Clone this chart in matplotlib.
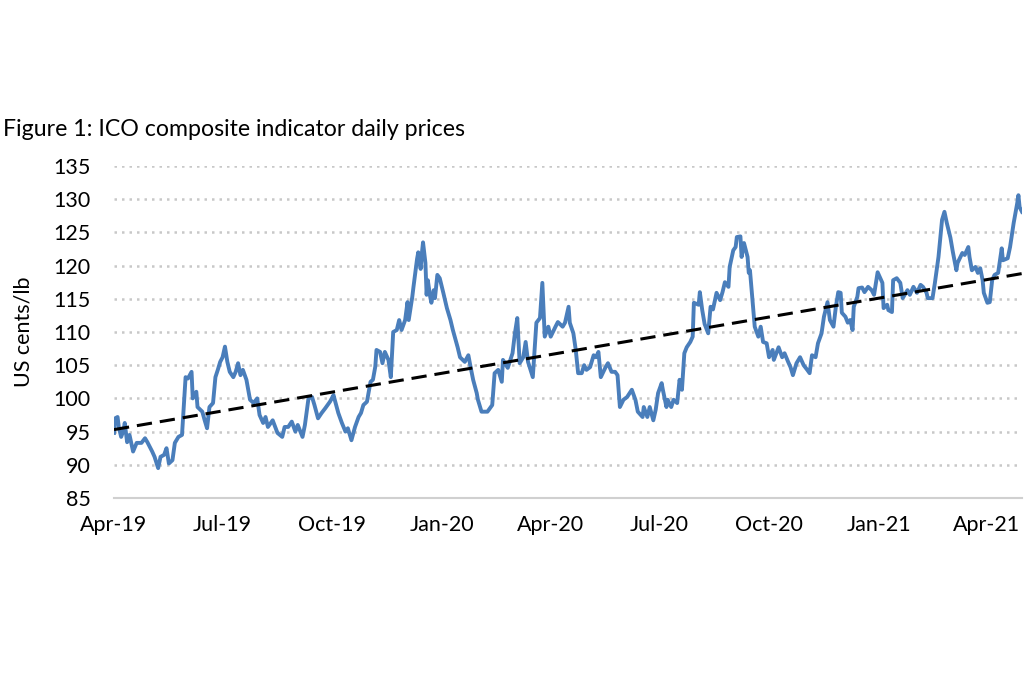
import numpy as np
import pandas as pd
import matplotlib
matplotlib.use('Agg')
import matplotlib.pyplot as plt
import matplotlib.dates as mdates

plt.rcParams['font.family'] = ['Lato', 'DejaVu Sans']

# ICO composite indicator (days counted from start_date)
start_date = '2019-04-01'
days = [0, 1, 3, 4, 6, 8, 9, 11, 13, 16, 19, 23, 26, 28, 32, 34, 37, 39, 42, 44,
        46, 49, 51, 54, 57, 60, 62, 65, 66, 69, 70, 74, 76, 78, 80, 83, 85, 87, 89, 91,
        93, 95, 97, 100, 102, 104, 106, 108, 111, 114, 117, 120, 122, 125, 127, 129, 133, 137, 141, 143,
        146, 149, 152, 154, 158, 160, 163, 166, 168, 171, 174, 177, 181, 184, 185, 188, 191, 194, 196, 199,
        202, 205, 207, 209, 212, 215, 217, 219, 220, 223, 225, 227, 230, 232, 234, 237, 239, 241, 244, 246,
        247, 250, 251, 254, 255, 257, 258, 259, 261, 262, 263, 265, 266, 268, 269, 271, 273, 276, 279, 282,
        284, 288, 290, 294, 297, 299, 301, 304, 305, 308, 313, 317, 319, 322, 325, 326, 330, 334, 336, 338,
        340, 343, 345, 347, 351, 354, 357, 359, 361, 364, 366, 370, 372, 376, 378, 381, 382, 385, 387, 389,
        392, 394, 396, 399, 402, 404, 406, 408, 412, 414, 417, 420, 422, 424, 427, 430, 434, 437, 439, 443,
        444, 447, 449, 452, 454, 456, 459, 460, 463, 464, 467, 469, 472, 474, 476, 478, 480, 483, 485, 486,
        490, 491, 493, 495, 498, 500, 502, 505, 508, 510, 512, 515, 516, 519, 521, 522, 525, 526, 528, 531,
        532, 533, 536, 537, 540, 542, 544, 547, 549, 552, 553, 557, 560, 562, 565, 567, 569, 572, 575, 578,
        581, 583, 585, 588, 590, 593, 595, 598, 600, 603, 605, 607, 609, 610, 613, 615, 617, 619, 620, 623,
        624, 627, 629, 632, 635, 637, 640, 641, 644, 645, 648, 649, 652, 653, 656, 659, 661, 665, 667, 670,
        673, 676, 678, 681, 682, 686, 688, 691, 694, 696, 698, 701, 703, 706, 707, 711, 713, 716, 717, 719,
        722, 724, 726, 728, 729, 732, 734, 736, 738, 741, 744, 745, 749, 751, 754, 757, 758, 759, 761]
prices = [94.8, 97.0, 97.2, 95.7, 94.2, 95.2, 96.3, 93.4, 94.5, 92.0, 93.3, 93.3, 94.0, 93.4, 92.0, 91.2, 89.5, 91.2, 91.5, 92.5,
          90.2, 90.7, 93.3, 94.2, 94.5, 103.2, 103.0, 104.0, 100.0, 101.0, 98.7, 98.0, 96.7, 95.5, 98.7, 99.3, 103.2, 104.3, 105.5, 106.2,
          107.8, 105.5, 104.0, 103.2, 104.0, 105.3, 103.5, 104.3, 102.8, 99.8, 99.3, 100.0, 97.5, 96.3, 97.2, 95.7, 96.7, 94.8, 94.2, 95.7,
          95.7, 96.5, 95.0, 96.0, 94.2, 96.0, 100.0, 100.2, 99.0, 97.0, 97.8, 98.5, 99.5, 100.5, 99.8, 97.8, 96.3, 95.0, 95.5, 93.7,
          95.7, 97.2, 97.8, 99.0, 99.5, 102.5, 102.8, 104.8, 107.3, 107.0, 105.3, 107.0, 105.8, 103.2, 110.0, 110.3, 111.8, 110.3, 111.8, 114.5,
          111.8, 115.3, 116.8, 121.0, 122.0, 119.5, 121.8, 123.5, 120.4, 115.6, 117.8, 115.3, 114.4, 116.3, 115.1, 118.6, 118.1, 115.9, 113.6, 111.8,
          110.3, 107.7, 106.2, 105.5, 106.5, 104.6, 102.8, 100.8, 99.8, 98.0, 98.0, 99.0, 103.8, 104.3, 102.5, 105.8, 104.6, 106.8, 109.8, 112.1,
          105.3, 106.2, 108.5, 105.5, 103.2, 111.4, 112.1, 117.4, 109.3, 110.8, 109.3, 110.8, 111.5, 110.8, 111.4, 113.8, 111.4, 109.8, 107.3, 103.8,
          103.8, 105.0, 104.3, 104.7, 106.5, 106.2, 107.0, 103.2, 104.7, 105.3, 104.0, 104.0, 103.5, 98.7, 99.8, 100.2, 101.3, 99.8, 98.0, 97.2,
          98.7, 97.2, 98.7, 96.7, 98.3, 100.8, 102.3, 101.3, 98.7, 99.8, 98.7, 99.8, 99.3, 102.8, 101.3, 106.8, 107.7, 108.5, 109.3, 114.4,
          114.1, 116.0, 113.3, 111.2, 109.8, 113.8, 113.4, 115.9, 114.8, 116.0, 117.5, 116.8, 119.8, 122.3, 122.8, 124.3, 124.4, 121.3, 123.4, 121.3,
          118.9, 119.3, 112.9, 110.8, 109.3, 110.8, 108.5, 108.3, 106.2, 107.3, 105.8, 107.7, 106.2, 106.8, 105.5, 104.7, 103.5, 105.3, 106.2, 105.0,
          104.3, 103.8, 106.5, 106.2, 108.3, 109.8, 112.3, 114.5, 111.8, 110.8, 113.8, 116.0, 115.9, 112.9, 112.3, 111.4, 111.8, 110.3, 113.8, 115.3,
          116.6, 116.7, 116.0, 116.8, 116.3, 115.6, 119.0, 118.6, 117.4, 113.6, 114.1, 113.3, 113.0, 117.8, 118.1, 117.4, 115.1, 116.3, 115.6, 116.8,
          115.9, 117.1, 116.8, 115.9, 115.1, 115.1, 117.4, 121.3, 126.9, 128.1, 126.4, 124.2, 122.1, 119.3, 120.4, 121.9, 121.6, 122.8, 121.3, 119.3,
          119.8, 118.9, 119.6, 117.8, 115.9, 114.4, 114.5, 117.8, 118.6, 118.9, 122.6, 120.8, 121.1, 122.8, 126.4, 129.4, 130.6, 128.8, 128.1]

# linear trend, start and end values
trend_days = [0, 761]
trend_vals = [95.3, 118.8]

tick_dates = ['2019-04-01', '2019-07-01', '2019-10-01', '2020-01-01', '2020-04-01',
              '2020-07-01', '2020-10-01', '2021-01-01', '2021-04-01']
yticks = [85, 90, 95, 100, 105, 110, 115, 120, 125, 130, 135]

t0 = pd.Timestamp(start_date)
dates = t0 + pd.to_timedelta(days, unit='D')
tdates = t0 + pd.to_timedelta(trend_days, unit='D')

fig = plt.figure(figsize=(10.24, 6.83), dpi=100)
ax = fig.add_axes([114/1024, 1 - 498/683, (1022 - 114)/1024, 332/683])

for y in yticks[1:]:
    ax.axhline(y, color='#c8c8c8', lw=1.8, ls=(0, (1, 2.0)), zorder=0)

ax.plot(dates, prices, color='#4a7ebb', lw=2.8, solid_joinstyle='round', zorder=2)
ax.plot(tdates, trend_vals, color='black', lw=2.2, dashes=(5.0, 2.6), zorder=3)

ax.set_ylim(85, 135)
ax.set_xlim(dates[0], dates[-1])
ax.set_yticks(yticks)
ax.set_xticks(pd.to_datetime(tick_dates))
ax.xaxis.set_major_formatter(mdates.DateFormatter('%b-%y'))
ax.tick_params(length=0, labelsize=15.5, colors='black')
ax.tick_params(axis='y', pad=17)
ax.tick_params(axis='x', pad=12)

for s in ['top', 'right', 'left']:
    ax.spines[s].set_visible(False)
ax.spines['bottom'].set_color('#d0d0d0')
ax.spines['bottom'].set_linewidth(1.5)

ax.set_ylabel('US cents/lb', fontsize=15.5, labelpad=14)
fig.text(3/1024, 1 - 130/683, 'Figure 1: ICO composite indicator daily prices',
         fontsize=16.7, va='center', ha='left')

fig.savefig('out.png', dpi=100, facecolor='white')
